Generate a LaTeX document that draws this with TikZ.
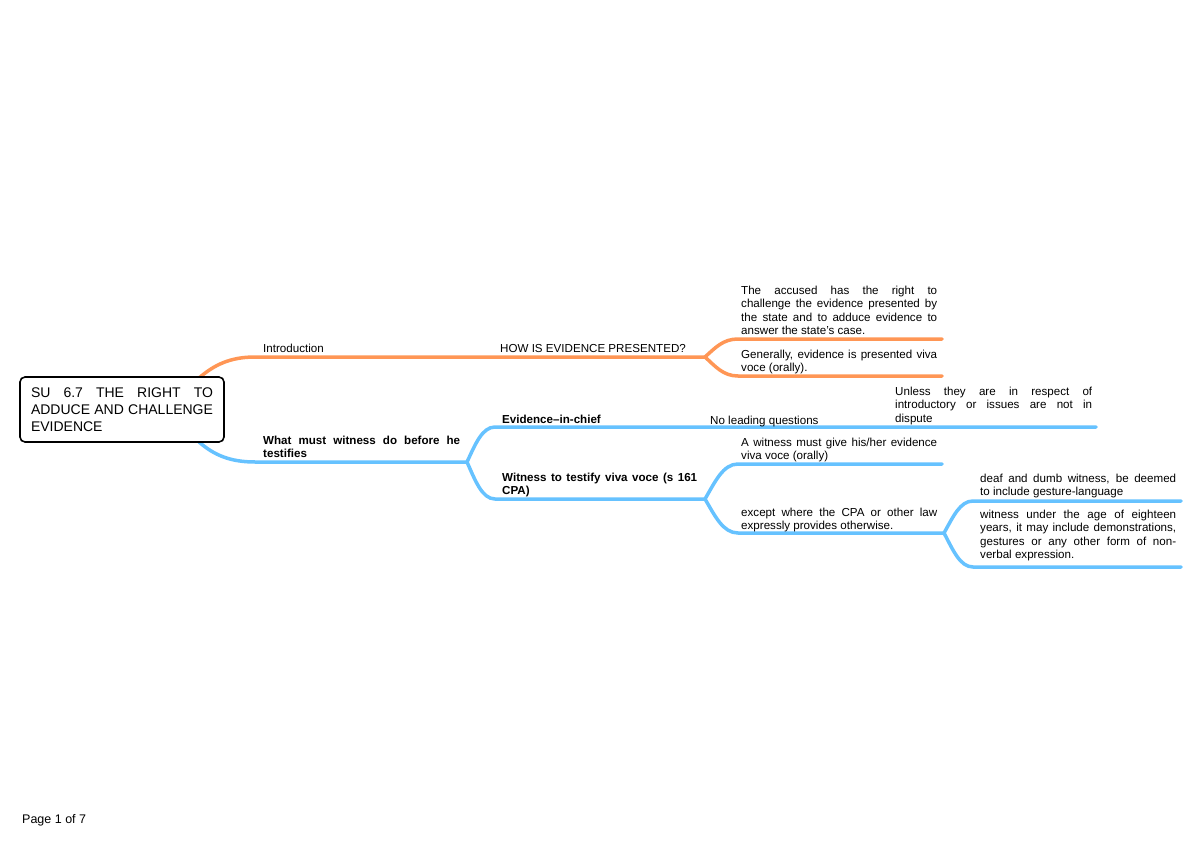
\documentclass[tikz,border=0pt]{standalone}
\usepackage{fontspec}
\setmainfont{Liberation Sans}
\definecolor{orangeline}{RGB}{255,150,85}
\definecolor{blueline}{RGB}{102,194,255}
\begin{document}
\begin{tikzpicture}[x=1pt,y=-1pt,
  branch/.style={line width=3.5pt, line cap=round, line join=round},
  obr/.style={branch, draw=orangeline},
  bbr/.style={branch, draw=blueline},
  lbl/.style={anchor=base west, inner sep=0pt, font=\fontsize{11.6}{13.6}\selectfont},
  para/.style={lbl, align=justify, text width=#1},
  rootbox/.style={draw=black, line width=1.6pt, rounded corners=5pt, fill=white,
    minimum width=204pt, minimum height=65pt, inner sep=0pt, text width=182pt,
    align=justify, font=\fontsize{14}{17}\selectfont}
]
\useasboundingbox (0,0) rectangle (1200,848);

% coordinates of branch lines
\coordinate (o0) at (199,378);
\coordinate (o1) at (255,357);
\coordinate (of) at (705,357);
\coordinate (oa1) at (738,339);
\coordinate (oa2) at (942,339);
\coordinate (ob1) at (738,376);
\coordinate (ob2) at (942,376);

\coordinate (b0) at (199,442);
\coordinate (b1) at (255,462);
\coordinate (bf) at (467,462);
\coordinate (ba1) at (495,427);
\coordinate (ba2) at (1096,427);
\coordinate (bb1) at (495,499);
\coordinate (bf2) at (705,499);
\coordinate (bc1) at (738,464);
\coordinate (bc2) at (942,464);
\coordinate (bd1) at (738,533);
\coordinate (bf3) at (944,533);
\coordinate (be1) at (973,501);
\coordinate (be2) at (1181,501);
\coordinate (bg1) at (973,567);
\coordinate (bg2) at (1181,567);

% orange branch
\draw[obr] (o0) .. controls +(15,-13) and +(-25,0) .. (o1) -- (of);
\draw[obr] (of) .. controls +(10,-9) and +(-15,0) .. (oa1) -- (oa2);
\draw[obr] (of) .. controls +(10,9) and +(-15,0) .. (ob1) -- (ob2);

% blue branch
\draw[bbr] (b0) .. controls +(15,13) and +(-25,0) .. (b1) -- (bf);
\draw[bbr] (bf) .. controls +(8,-17) and +(-13,0) .. (ba1) -- (ba2);
\draw[bbr] (bf) .. controls +(8,18) and +(-13,0) .. (bb1) -- (bf2);
\draw[bbr] (bf2) .. controls +(10,-17) and +(-15,0) .. (bc1) -- (bc2);
\draw[bbr] (bf2) .. controls +(10,17) and +(-15,0) .. (bd1) -- (bf3);
\draw[bbr] (bf3) .. controls +(9,-16) and +(-13,0) .. (be1) -- (be2);
\draw[bbr] (bf3) .. controls +(9,17) and +(-13,0) .. (bg1) -- (bg2);

% root
\node[rootbox] (root) at (122,409.5) {SU 6.7 THE RIGHT TO\linebreak ADDUCE AND CHALLENGE\linebreak EVIDENCE};

% labels
\node[lbl] (intro) at (263,352) {Introduction};
\node[lbl] (how) at (500,352) {HOW IS EVIDENCE PRESENTED?};
\node[para=196pt] (accused) at (741,294) {The accused has the right to\linebreak challenge the evidence presented by\linebreak the state and to adduce evidence to\linebreak answer the state's case.};
\node[para=196pt] (generally) at (741,358) {Generally, evidence is presented viva\linebreak voce (orally).};

\node[para=197pt, font=\fontsize{11.6}{13.6}\selectfont\bfseries] (what) at (263,444) {What must witness do before he\linebreak testifies};
\node[lbl, font=\fontsize{11.6}{13.6}\selectfont\bfseries] (chief) at (502,423) {Evidence--in-chief};
\node[lbl] (noleading) at (710,424) {No leading questions};
\node[para=197pt] (unless) at (895,395) {Unless they are in respect of\linebreak introductory or issues are not in\linebreak dispute};
\node[para=195pt, font=\fontsize{11.6}{13.6}\selectfont\bfseries] (vivavoce) at (502,481) {Witness to testify viva voce (s 161\linebreak CPA)};
\node[para=196pt] (mustgive) at (741,446) {A witness must give his/her evidence\linebreak viva voce (orally)};
\node[para=196pt] (except) at (741,516) {except where the CPA or other law\linebreak expressly provides otherwise.};
\node[para=196pt] (deaf) at (980,482) {deaf and dumb witness, be deemed\linebreak to include gesture-language};
\node[para=196pt] (under) at (980,518) {witness under the age of eighteen\linebreak years, it may include demonstrations,\linebreak gestures or any other form of non-\linebreak verbal expression.};

\node[anchor=base west, inner sep=0pt, font=\fontsize{12.5}{15}\selectfont] (page) at (22,823) {Page 1 of 7};
\end{tikzpicture}
\end{document}
